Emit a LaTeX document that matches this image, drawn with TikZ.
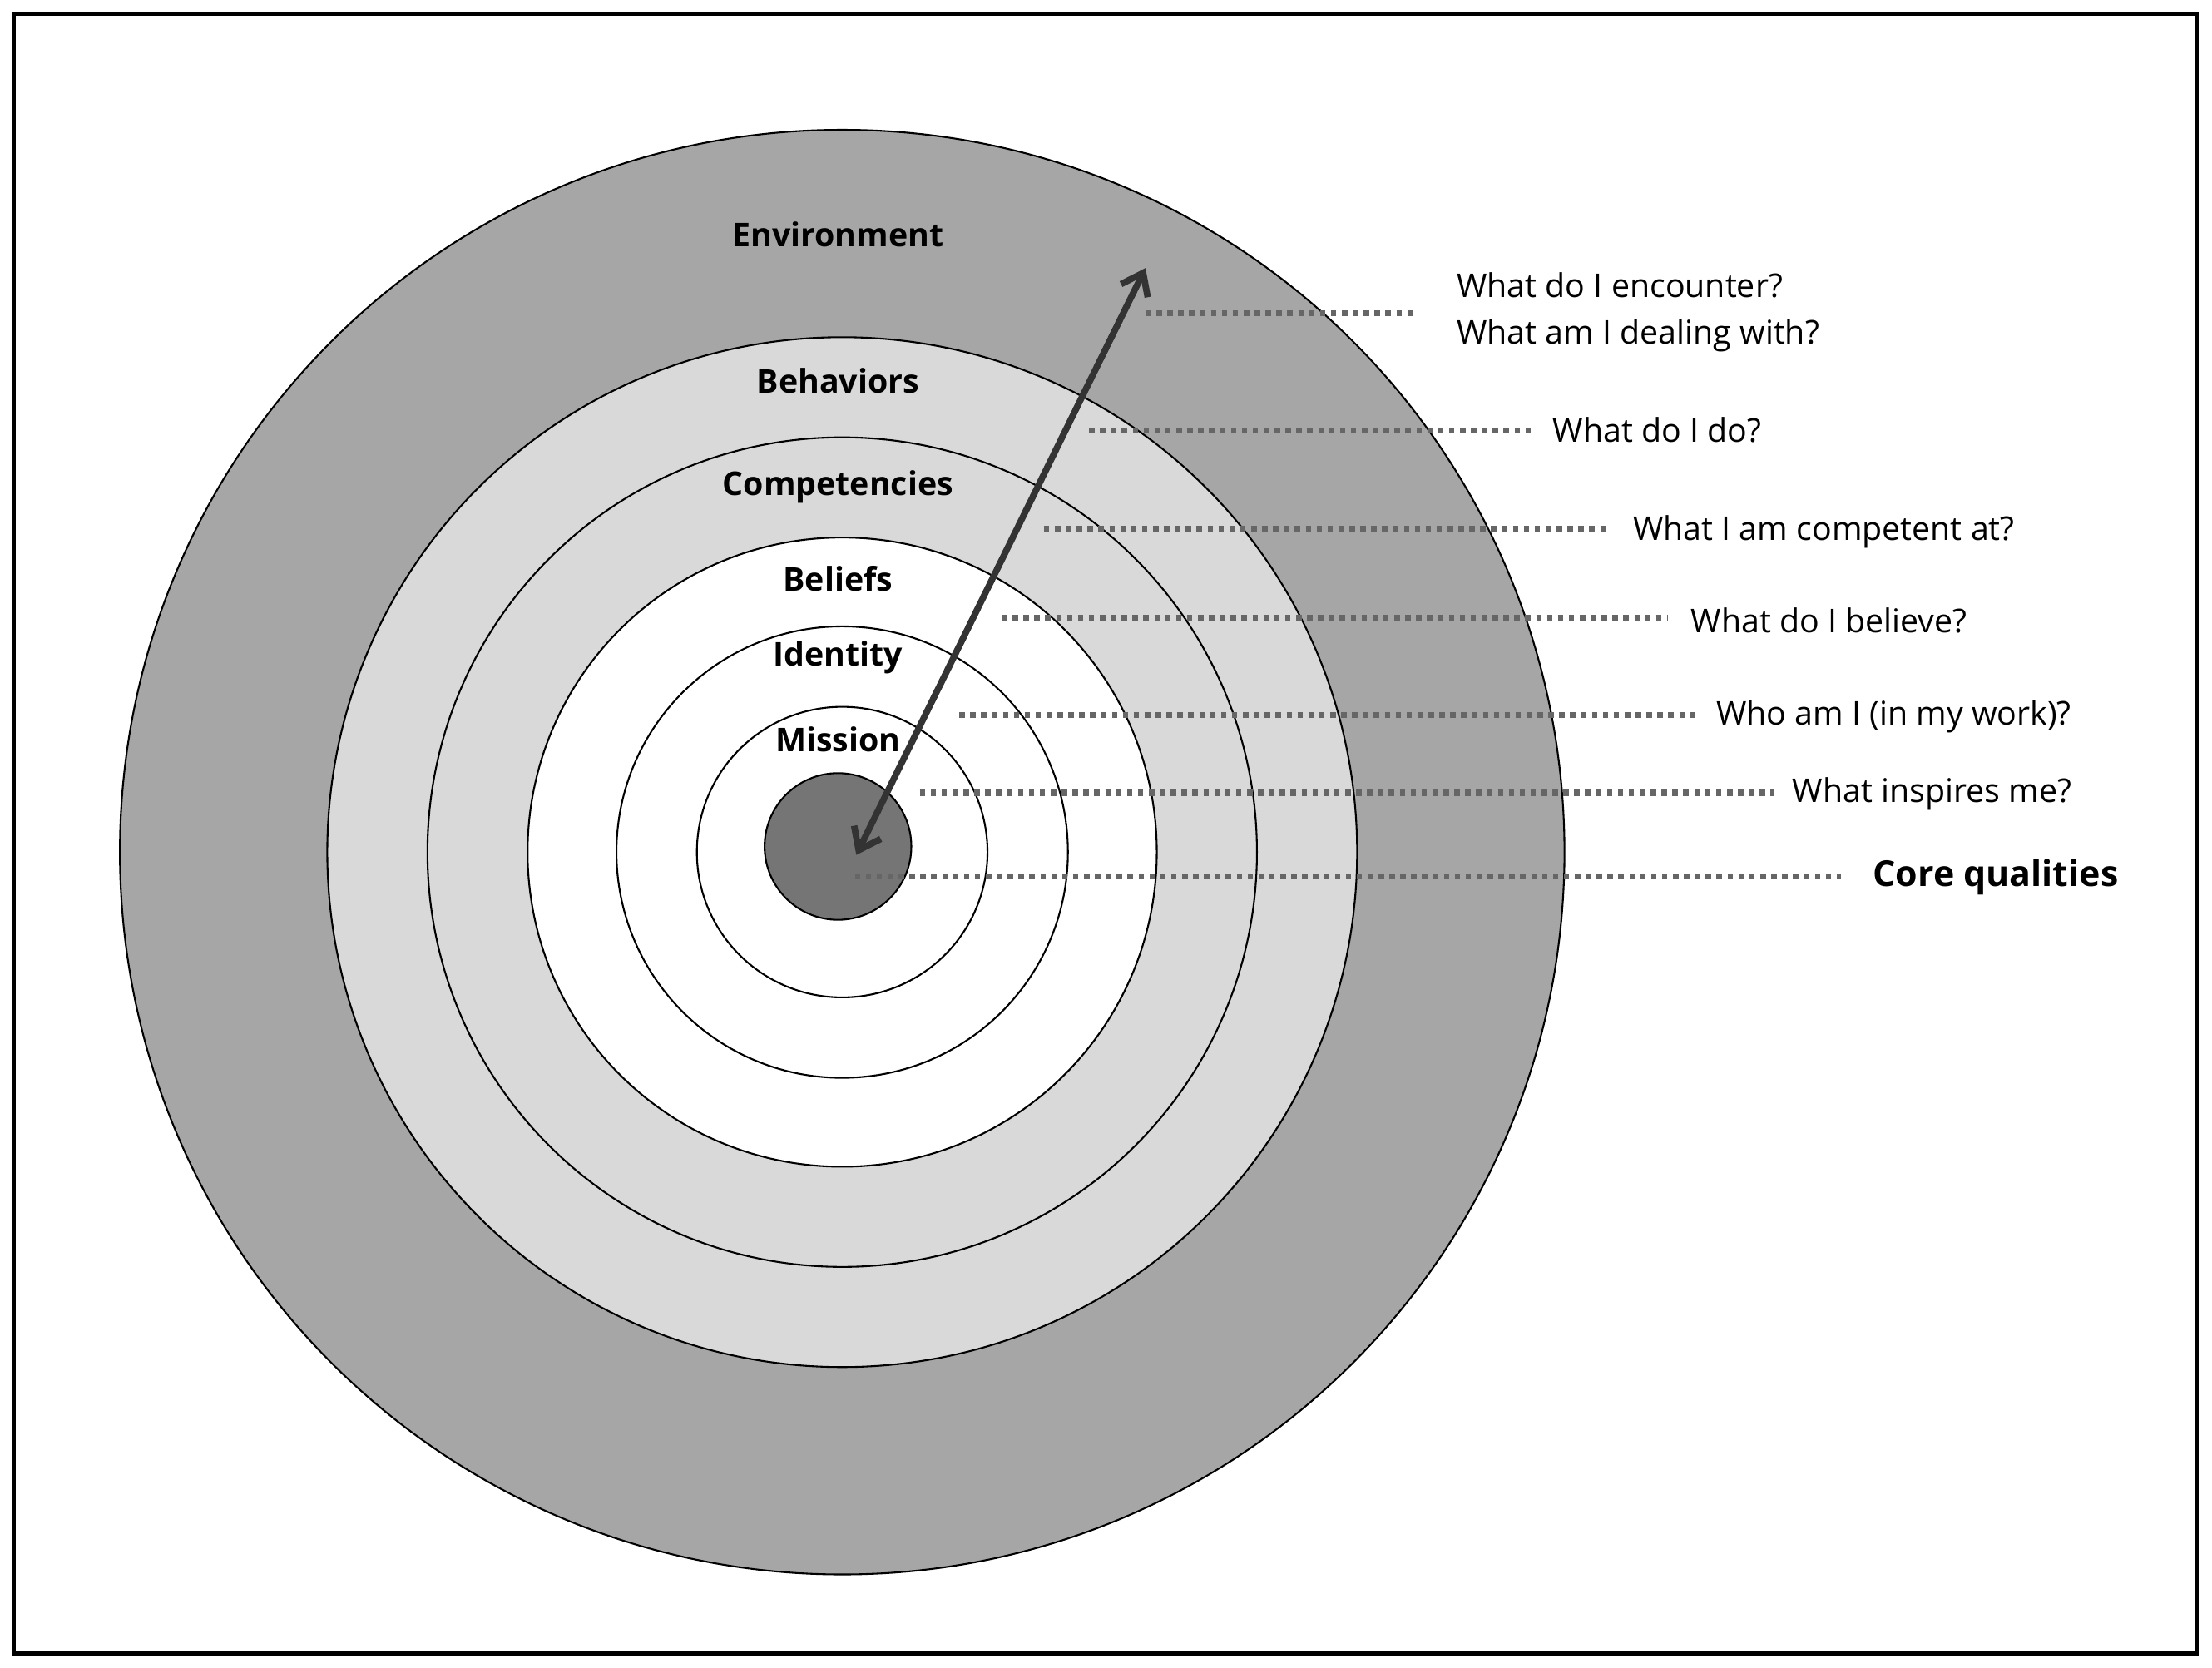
\documentclass[tikz,border=0pt]{standalone}
\usepackage{fontspec}
\usetikzlibrary{arrows.meta}
\setmainfont{Open Sans}
\begin{document}
\begin{tikzpicture}[x=0.1mm,y=-0.1mm,
  ring/.style={draw=black,line width=0.35pt},
  lab/.style={font=\fontsize{6.6}{8}\selectfont\bfseries},
  q/.style={anchor=west,font=\fontsize{6.6}{8}\selectfont,inner sep=0pt},
  dots/.style={draw=black!60,line width=1.2pt,dash pattern=on 1.1pt off 1.1pt}]
\useasboundingbox (0,0) rectangle (1568,1182);
\draw[line width=0.8pt] (10,10) rectangle (1557,1172);
\coordinate (c) at (597,604);
\filldraw[ring,fill=black!35] (c) circle (512);
\filldraw[ring,fill=black!15] (c) circle (365);
\filldraw[ring,fill=black!15] (c) circle (294);
\filldraw[ring,fill=white] (c) circle (223);
\filldraw[ring,fill=white] (c) circle (160);
\filldraw[ring,fill=white] (c) circle (103);
\filldraw[ring,fill=black!54] (594,600) circle (52);
\node[lab] (env) at (594,166) {Environment};
\node[lab] (beh) at (594,270) {Behaviors};
\node[lab] (com) at (594,345) {Competencies};
\node[lab] (bel) at (594,410) {Beliefs};
\node[lab] (ide) at (594,466) {Identity};
\node[lab] (mis) at (594,524) {Mission};
\node[q] (q1) at (1032,202) {What do I encounter?};
\node[q] (q1b) at (1032,238) {What am I dealing with?};
\node[q] (q2) at (1100,305) {What do I do?};
\node[q] (q3) at (1157,377) {What I am competent at?};
\node[q] (q4) at (1198,440) {What do I believe?};
\node[q] (q5) at (1216,508) {Who am I (in my work)?};
\node[q] (q6) at (1270,563) {What inspires me?};
\node[q,font=\fontsize{7.2}{8}\selectfont\bfseries] (q7) at (1327,622) {Core qualities};
\draw[dots] (812,222) -- (1005,222);
\draw[dots] (772,305) -- (1085,305);
\draw[dots] (740,375) -- (1140,375);
\draw[dots] (710,438) -- (1182,438);
\draw[dots] (680,507) -- (1205,507);
\draw[dots] (652,562) -- (1258,562);
\draw[dots] (606,621) -- (1305,621);
\coordinate (a1) at (607,606);
\coordinate (a2) at (812,190);
\draw[black!80,line width=1.3pt,{Straight Barb[length=4pt,width=6pt]}-{Straight Barb[length=4pt,width=6pt]}] (a1) -- (a2);
\end{tikzpicture}
\end{document}
